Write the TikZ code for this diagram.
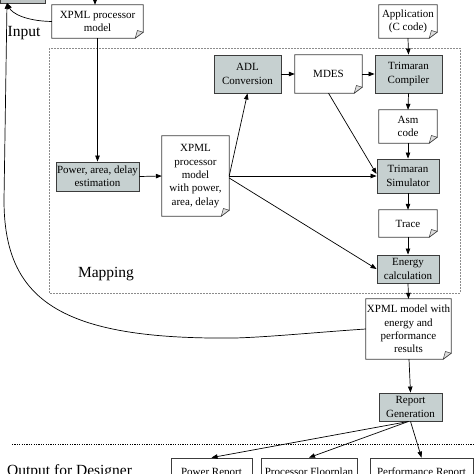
\documentclass[tikz,border=0pt]{standalone}
\usepackage{fontspec}
\setmainfont{Liberation Serif}
\usetikzlibrary{arrows.meta}
\definecolor{procfill}{RGB}{198,208,208}
\definecolor{procline}{RGB}{60,60,60}
\definecolor{mapline}{RGB}{140,140,140}
\definecolor{foldfill}{RGB}{220,220,220}
\tikzset{
  base/.style={font=\fontsize{11}{13.3}\selectfont, align=center, inner sep=0pt},
  proc/.style={base, draw=procline, fill=procfill, line width=0.9pt},
  doc/.style={base},
  plainbox/.style={base, draw=procline, line width=0.8pt},
  docline/.style={draw=procline, line width=0.7pt},
  arr/.style={-{Triangle[length=6pt,width=4.5pt]}, line width=0.7pt},
  biglabel/.style={font=\fontsize{15.5}{18}\selectfont, inner sep=0pt},
}
\begin{document}
\begin{tikzpicture}[x=1pt,y=-1pt]
\useasboundingbox (0,0) rectangle (474,474);
% mapping region
\draw[mapline, line width=0.8pt, dash pattern=on 2pt off 1pt] (49,48) rectangle (460,293);
\node[biglabel] (maplabel) at (106,274) {Mapping};
\node[biglabel] (inputlabel) at (24,33) {Input};
\node[biglabel, anchor=base west] (outlabel) at (7,475) {Output for Designer};
% dotted separator
\draw[line width=1pt, dash pattern=on 1.2pt off 1.2pt] (12,444) -- (474,444);
% cropped top box
\node[base, draw=procline, fill={rgb,255:red,190;green,196;blue,196}, minimum width=45pt, minimum height=33pt] (topbox) at (22.5,-13.5) {};
\coordinate (topin) at (7,3);
\coordinate (above) at (95,-10);
% nodes
\node[doc, minimum width=91pt, minimum height=33pt] (xpml) at (97.5,21.5) {XPML processor\\model};
\node[doc, minimum width=58pt, minimum height=33pt] (appl) at (408,21.5) {Application\\(C code)};
\node[proc, minimum width=67pt, minimum height=38pt] (adl) at (247.5,74) {ADL\\Conversion};
\node[doc, minimum width=67pt, minimum height=38pt] (mdes) at (328.5,74) {MDES};
\node[proc, minimum width=67pt, minimum height=38pt] (comp) at (408.5,74) {Trimaran\\Compiler};
\node[doc, minimum width=58pt, minimum height=33pt] (asm) at (408,126.5) {Asm\\code};
\node[proc, minimum width=62pt, minimum height=34pt] (sim) at (408,176) {Trimaran\\Simulator};
\node[doc, minimum width=58pt, minimum height=27pt] (trace) at (408,223.5) {Trace};
\node[proc, minimum width=62pt, minimum height=28pt] (energy) at (408,269) {Energy\\calculation};
\node[doc, minimum width=85pt, minimum height=60pt] (xres) at (408.5,329) {XPML model with\\energy and\\performance\\results};
\node[proc, minimum width=63pt, minimum height=28pt] (rep) at (410.5,407) {Report\\Generation};
\node[proc, minimum width=83pt, minimum height=29pt] (pow) at (97.5,176.5) {Power, area, delay\\estimation};
\node[doc, minimum width=67pt, minimum height=80pt] (xpwr) at (195.5,176) {XPML\\processor\\model\\with power,\\area, delay};
\node[plainbox, minimum width=81pt, minimum height=30pt, text depth=0pt] (prep) at (211.5,473) {};
\node[plainbox, minimum width=96pt, minimum height=30pt] (frep) at (309,473) {};
\node[plainbox, minimum width=103pt, minimum height=30pt] (perf) at (421.5,473) {};
\node[base, anchor=base] (prept) at (211.5,475) {Power Report};
\node[base, anchor=base] (frept) at (309,475) {Processor Floorplan};
\node[base, anchor=base] (perft) at (421.5,475) {Performance Report};
% document outlines with folded corner
\foreach \n in {xpml,appl,mdes,asm,trace,xres,xpwr} {
  \draw[docline, fill=white] (\n.north west) -- (\n.north east) -- ([yshift=6pt]\n.south east) -- ([xshift=-8pt]\n.south east) -- (\n.south west) -- cycle;
  \draw[docline, fill=foldfill, line width=0.5pt] ([xshift=-8pt]\n.south east) -- ([yshift=6pt]\n.south east) -- ([xshift=-5.8pt,yshift=7.7pt]\n.south east) -- cycle;
}
% redraw doc texts on top of white fill
\node[doc] at (xpml) {XPML processor\\model};
\node[doc] at (appl) {Application\\(C code)};
\node[doc] at (mdes) {MDES};
\node[doc] at (asm) {Asm\\code};
\node[doc] at (trace) {Trace};
\node[doc] at (xres) {XPML model with\\energy and\\performance\\results};
\node[doc] at (xpwr) {XPML\\processor\\model\\with power,\\area, delay};
% connectors
\draw[arr] (above) -- ([xshift=-2.5pt]xpml.north);
\draw[arr] (xpml.south) -- (pow.north);
\draw[arr] (pow.east) -- (xpwr.west);
\draw[arr] (xpwr.east) -- (adl.south);
\draw[arr] (xpwr.east) -- (sim.west);
\draw[arr] ([yshift=-2pt]xpwr.east) -- (energy.west);
\draw[arr] (adl.east) -- (mdes.west);
\draw[arr] (mdes.east) -- (comp.west);
\draw[arr] (mdes.south) -- ([yshift=2pt]sim.west);
\draw[arr] (appl.south) -- (comp.north);
\draw[arr] (comp.south) -- (asm.north);
\draw[arr] (asm.south) -- (sim.north);
\draw[arr] (sim.south) -- (trace.north);
\draw[arr] (trace.south) -- (energy.north);
\draw[arr] (energy.south) -- (xres.north);
\draw[arr] ([xshift=0.5pt]xres.south) -- (rep.north);
\draw[arr] ([xshift=-2pt]rep.south) -- (prep.north);
\draw[arr] ([xshift=-2pt]rep.south) -- (frep.north);
\draw[arr] (rep.south) -- (perf.north);
\draw[arr] (xres.west) .. controls (320,332) and (270,337) .. (235,338)
  .. controls (60,340) and (4,300) .. (4,200) -- (topin);
\draw[arr] (xpml.west) .. controls (25,21) and (12,13) .. (topin);
\end{tikzpicture}
\end{document}
